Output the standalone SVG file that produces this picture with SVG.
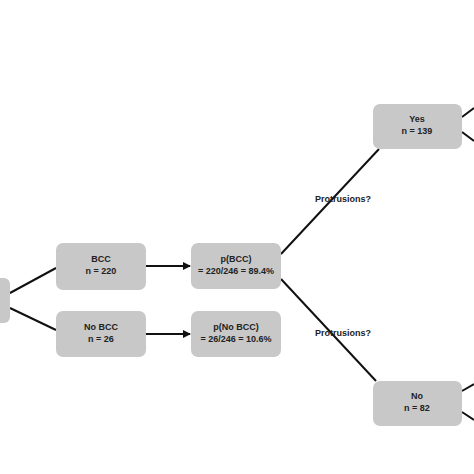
<svg xmlns="http://www.w3.org/2000/svg" width="474" height="474" viewBox="0 0 474 474">
<style>
.n{fill:#c8c8c8}
.t{font-family:"Liberation Sans",Arial,sans-serif;font-size:9px;font-weight:bold;fill:#222;text-anchor:middle}
.l{stroke:#111;stroke-width:2;fill:none}
</style>
<defs><marker id="a" markerWidth="8" markerHeight="8" refX="7" refY="4" orient="auto" markerUnits="userSpaceOnUse"><path d="M0,0L8,4L0,8z" fill="#111"/></marker></defs>
<rect width="474" height="474" fill="#fff"/>
<g id="connectors">
<line class="l" x1="10" y1="293" x2="56" y2="268"/>
<line class="l" x1="10" y1="308" x2="56" y2="330"/>
<line class="l" x1="146" y1="266" x2="190" y2="266" marker-end="url(#a)"/>
<line class="l" x1="146" y1="334" x2="190" y2="334" marker-end="url(#a)"/>
<line class="l" x1="281" y1="254" x2="379" y2="149"/>
<line class="l" x1="281" y1="279" x2="376" y2="381"/>
<line class="l" x1="462" y1="117" x2="474" y2="108"/>
<line class="l" x1="462" y1="132" x2="474" y2="141"/>
<line class="l" x1="462" y1="391" x2="474" y2="384"/>
<line class="l" x1="462" y1="412" x2="474" y2="420"/>
<text class="t" x="343" y="202">Protrusions?</text>
<text class="t" x="343" y="336">Protrusions?</text>
</g>
<g id="root"><rect class="n" x="-20" y="278" width="30" height="45" rx="6"/></g>
<g id="bcc"><rect class="n" x="56" y="243" width="90" height="47" rx="7"/><text class="t" x="101" y="262">BCC</text><text class="t" x="101" y="274">n = 220</text></g>
<g id="nobcc"><rect class="n" x="56" y="311" width="90" height="46" rx="7"/><text class="t" x="101" y="330">No BCC</text><text class="t" x="101" y="342">n = 26</text></g>
<g id="pbcc"><rect class="n" x="191" y="243" width="90" height="46" rx="7"/><text class="t" x="236" y="262">p(BCC)</text><text class="t" x="236" y="274">= 220/246 = 89.4%</text></g>
<g id="pnobcc"><rect class="n" x="191" y="311" width="90" height="46" rx="7"/><text class="t" x="236" y="330">p(No BCC)</text><text class="t" x="236" y="342">= 26/246 = 10.6%</text></g>
<g id="yes"><rect class="n" x="373" y="104" width="89" height="45" rx="7"/><text class="t" x="417" y="122">Yes</text><text class="t" x="417" y="134">n = 139</text></g>
<g id="no"><rect class="n" x="373" y="381" width="89" height="45" rx="7"/><text class="t" x="417" y="399">No</text><text class="t" x="417" y="411">n = 82</text></g>
</svg>
